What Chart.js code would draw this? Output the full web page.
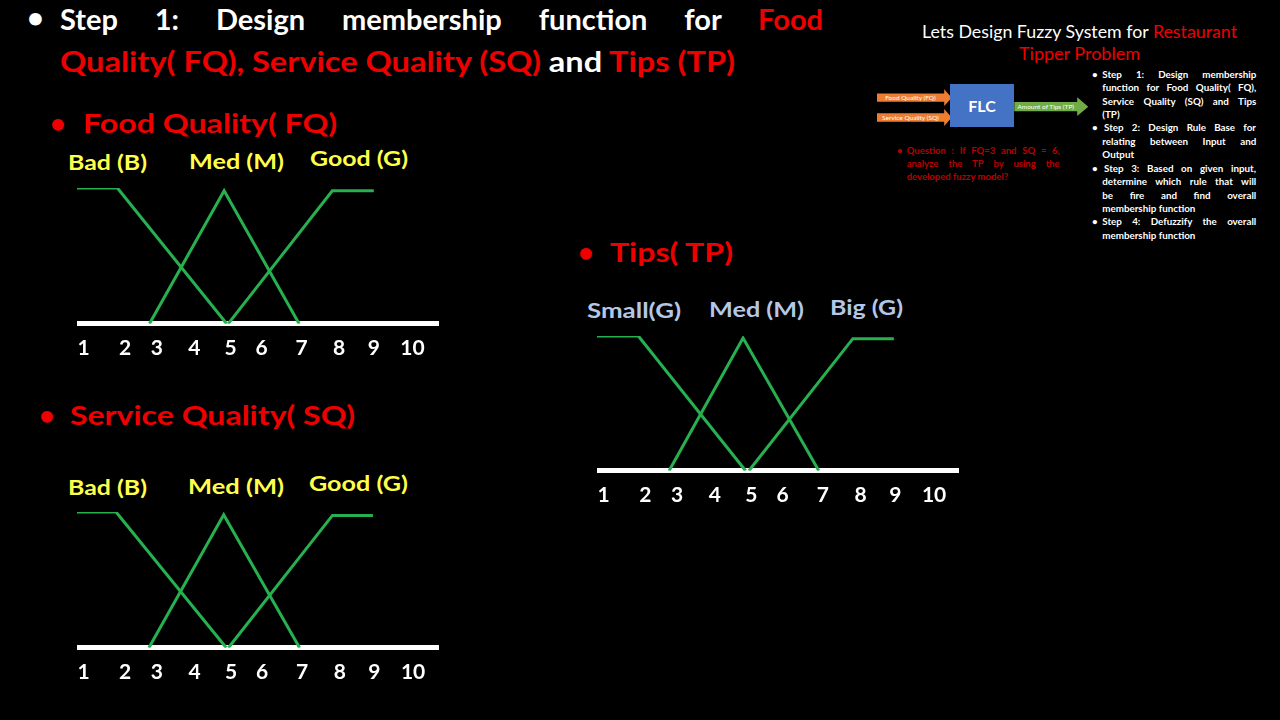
<!DOCTYPE html>
<html>
<head>
<meta charset="utf-8">
<script src="https://cdn.jsdelivr.net/npm/chart.js@4.4.1/dist/chart.umd.min.js"></script>
<style>
  html, body { margin: 0; padding: 0; background: #000; }
  #slide { position: relative; width: 1280px; height: 720px; overflow: hidden; background: #000;
           font-family: Lato, 'Noto Sans', sans-serif; font-weight: 700; color: #fff; }
  .t { position: absolute; white-space: nowrap; line-height: 1.2; transform-origin: 0 0; }
  .red { color: #ee0000; }
  .h1 { font-size: 29px; }
  .h2 { font-size: 27px; color: #ee0000; }
  .lab { font-size: 21px; color: #ffff4a; }
  .lab.blue { color: #b4c7e7; }
  .thumb { font-weight: 400; font-size: 17px; }
  .step { font-size: 9.8px; }
  .q { font-size: 9.5px; color: #b80000; }
  canvas { position: absolute; }
  .box { position: absolute; left: 950px; top: 84px; width: 64px; height: 43px; background: #4472c4;
         font-size: 16px; line-height: 43px; text-align: center; }
  .arrow { position: absolute; font-weight: 400; font-size: 6.5px; color: #fff; text-align: center;
           clip-path: polygon(0 25%, 90% 25%, 90% 0, 100% 50%, 90% 100%, 90% 75%, 0 75%); }
  .arrow span { position: absolute; left: 0; width: 90%; top: 50%; transform: translateY(-50%); line-height: 1; }
</style>
</head>
<body>
<div id="slide">
  <!-- heading -->
  <div class="t h1" data-x="27" data-b="29">•</div>
  <div class="t h1" data-x="60" data-b="31" data-w="763" data-j="1">Step 1: Design membership function for <span class="red">Food</span></div>
  <div class="t h1" data-x="60" data-b="73" data-w="675"><span class="red">Quality( FQ), Service Quality (SQ)</span> and <span class="red">Tips (TP)</span></div>

  <!-- section titles -->
  <div class="t h2" data-x="50" data-b="134">•</div>
  <div class="t h2" data-x="83" data-b="134" data-w="254">Food Quality( FQ)</div>
  <div class="t h2" data-x="39" data-b="426">•</div>
  <div class="t h2" data-x="70" data-b="426" data-w="285">Service Quality( SQ)</div>
  <div class="t h2" data-x="578" data-b="263">•</div>
  <div class="t h2" data-x="610" data-b="263" data-w="123">Tips( TP)</div>

  <!-- membership labels -->
  <div class="t lab" data-x="68.3" data-b="169.3" data-w="79">Bad (B)</div>
  <div class="t lab" data-x="189.3" data-b="168.3" data-w="95">Med (M)</div>
  <div class="t lab" data-x="310" data-b="166" data-w="98">Good (G)</div>
  <div class="t lab" data-x="68.3" data-b="495" data-w="79">Bad (B)</div>
  <div class="t lab" data-x="188.3" data-b="493.3" data-w="96">Med (M)</div>
  <div class="t lab" data-x="309.3" data-b="491" data-w="99">Good (G)</div>
  <div class="t lab blue" data-x="587.3" data-b="317.3" data-w="94">Small(G)</div>
  <div class="t lab blue" data-x="709.3" data-b="316.7" data-w="95">Med (M)</div>
  <div class="t lab blue" data-x="830" data-b="315" data-w="73">Big (G)</div>

  <canvas id="fqChart" width="362" height="183" style="left:77px;top:178px"></canvas>
  <canvas id="sqChart" width="362" height="183" style="left:77px;top:502px"></canvas>
  <canvas id="tpChart" width="362" height="182" style="left:597px;top:326px"></canvas>

  <!-- thumbnail of the overview slide -->
  <div class="t thumb" data-x="921.7" data-b="39" data-w="315">Lets Design Fuzzy System for <span class="red">Restaurant</span></div>
  <div class="t thumb red" data-x="1019" data-b="61" data-w="121">Tipper Problem</div>

  <div class="arrow" style="left:876.7px;top:89.3px;width:75px;height:16.7px;background:#ed7d31"><span>Food Quality (FQ)</span></div>
  <div class="arrow" style="left:876.7px;top:109px;width:75px;height:17px;background:#ed7d31"><span>Service Quality (SQ)</span></div>
  <div class="box">FLC</div>
  <div class="arrow" style="left:1014.3px;top:97.3px;width:74px;height:18.7px;background:#70ad47;clip-path:polygon(0 25%, 85% 25%, 85% 0, 100% 50%, 85% 100%, 85% 75%, 0 75%)"><span style="width:85%">Amount of Tips (TP)</span></div>

  <div class="t q" data-x="897" data-b="154">•</div>
  <div class="t q" data-x="906.7" data-b="154" data-w="153" data-j="1">Question : If FQ=3 and SQ = 6,</div>
  <div class="t q" data-x="906.7" data-b="167.3" data-w="153" data-j="1">analyze the TP by using the</div>
  <div class="t q" data-x="906.7" data-b="180.6">developed fuzzy model?</div>

  <div class="t step" data-x="1092" data-b="78.6">•</div>
  <div class="t step" data-x="1102.3" data-b="78.6" data-w="154" data-j="1">Step 1: Design membership</div>
  <div class="t step" data-x="1102.3" data-b="91.9" data-w="154" data-j="1">function for Food Quality( FQ),</div>
  <div class="t step" data-x="1102.3" data-b="105.3" data-w="154" data-j="1">Service Quality (SQ) and Tips</div>
  <div class="t step" data-x="1102.3" data-b="118.6">(TP)</div>
  <div class="t step" data-x="1092" data-b="131.9">•</div>
  <div class="t step" data-x="1104" data-b="131.9" data-w="152" data-j="1">Step 2: Design Rule Base for</div>
  <div class="t step" data-x="1102.3" data-b="145.9" data-w="154" data-j="1">relating between Input and</div>
  <div class="t step" data-x="1102.3" data-b="158.6">Output</div>
  <div class="t step" data-x="1092" data-b="172.6">•</div>
  <div class="t step" data-x="1104" data-b="172.6" data-w="152" data-j="1">Step 3: Based on given input,</div>
  <div class="t step" data-x="1102.3" data-b="185.9" data-w="154" data-j="1">determine which rule that will</div>
  <div class="t step" data-x="1102.3" data-b="199.3" data-w="154" data-j="1">be fire and find overall</div>
  <div class="t step" data-x="1102.3" data-b="212.9">membership function</div>
  <div class="t step" data-x="1092" data-b="225.9">•</div>
  <div class="t step" data-x="1102.3" data-b="225.9" data-w="154" data-j="1">Step 4: Defuzzify the overall</div>
  <div class="t step" data-x="1102.3" data-b="239.6">membership function</div>
</div>

<script>
// where the hand-placed labels 1..10 sit along the axes of the slide
const tickValues = [1, 2.14, 3.01, 4.04, 5.04, 5.89, 6.99, 8.02, 8.97, 10.03];
const tickLabels = ['1', '2', '3', '4', '5', '6', '7', '8', '9', '10'];

// Food Quality (FQ) membership functions
const fqBadX = [0.82, 1.93, 4.93];
const fqBadY = [1, 1, 0];
const fqMedX = [2.81, 4.86, 6.92];
const fqMedY = [0, 0.98, 0];
const fqGoodX = [4.97, 7.83, 8.97];
const fqGoodY = [0, 0.98, 0.98];

// Service Quality (SQ) membership functions
const sqBadX = [0.82, 1.89, 4.91];
const sqBadY = [1, 1, 0];
const sqMedX = [2.79, 4.84, 6.92];
const sqMedY = [0, 0.98, 0];
const sqGoodX = [4.97, 7.82, 8.93];
const sqGoodY = [0, 0.975, 0.975];

// Tips (TP) membership functions
const tpSmallX = [0.82, 1.95, 4.88];
const tpSmallY = [1, 1, 0];
const tpMedX = [2.79, 4.81, 6.88];
const tpMedY = [0, 0.985, 0];
const tpBigX = [4.97, 7.81, 8.93];
const tpBigY = [0, 0.98, 0.98];

const GREEN = '#27b04f';

function toPoints (xs, ys) {
  return xs.map((x, i) => ({ x: x, y: ys[i] }));
}

function drawFuzzyChart (elementId, series, xMin, xMax) {
  const el = document.getElementById(elementId);
  if (!el) {
    return;
  }

  const datasets = series.map(s => ({
    data: toPoints(s[0], s[1]),
    borderColor: GREEN,
    borderWidth: 3,
    pointRadius: 0,
    tension: 0
  }));

  return new Chart(el, {
    type: 'line',
    data: { datasets: datasets },
    options: {
      responsive: false,
      animation: false,
      layout: { padding: { top: 10 } },
      plugins: { legend: { display: false }, tooltip: { enabled: false } },
      scales: {
        x: {
          type: 'linear',
          min: xMin,
          max: xMax,
          z: 1,
          afterBuildTicks: axis => { axis.ticks = tickValues.map(v => ({ value: v })); },
          ticks: {
            color: '#fff',
            padding: 0,
            autoSkip: false,
            maxRotation: 0,
            font: { family: 'Lato', size: 21, weight: 'bold' },
            callback: (v, i) => tickLabels[i]
          },
          grid: { display: false, drawTicks: true, tickLength: 12, color: 'transparent' },
          border: { display: true, color: '#fff', width: 5 }
        },
        y: { display: false, min: 0, max: 1 }
      }
    }
  });
}

drawFuzzyChart('fqChart', [[fqBadX, fqBadY], [fqMedX, fqMedY], [fqGoodX, fqGoodY]], 0.82, 10.76);
drawFuzzyChart('sqChart', [[sqBadX, sqBadY], [sqMedX, sqMedY], [sqGoodX, sqGoodY]], 0.82, 10.74);
drawFuzzyChart('tpChart', [[tpSmallX, tpSmallY], [tpMedX, tpMedY], [tpBigX, tpBigY]], 0.82, 10.71);

// place the slide text: data-b is the baseline, data-w the width seen on the slide
function placeText () {
  document.querySelectorAll('.t').forEach(el => {
    const fs = parseFloat(getComputedStyle(el).fontSize);
    el.style.left = el.dataset.x + 'px';
    el.style.top = (el.dataset.b - 0.987 * fs) + 'px';
    if (!el.dataset.w) {
      return;
    }
    const w = parseFloat(el.dataset.w);
    const natural = el.getBoundingClientRect().width;
    if (el.dataset.j && natural < w) {
      el.style.width = w + 'px';
      el.style.textAlign = 'justify';
      el.style.textAlignLast = 'justify';
    } else {
      el.style.transform = 'scaleX(' + (w / natural) + ')';
    }
  });
}

placeText();
</script>
</body>
</html>
